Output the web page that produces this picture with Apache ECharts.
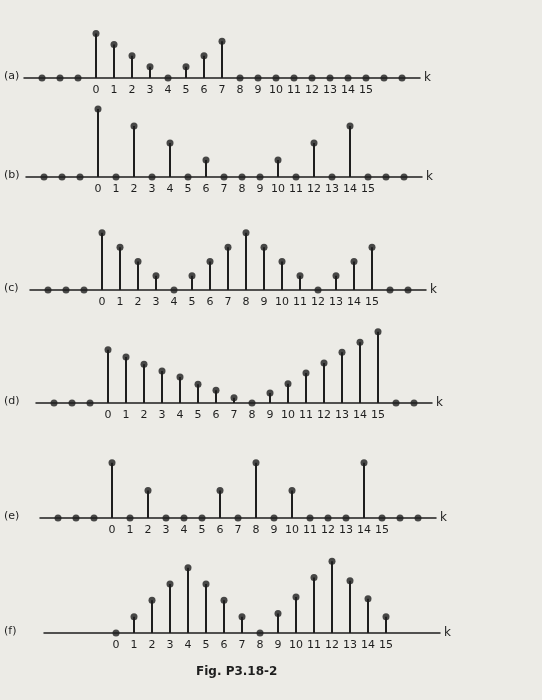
<!DOCTYPE html>
<html><head><meta charset="utf-8">
<script src="https://cdn.jsdelivr.net/npm/echarts@6/dist/echarts.min.js"></script>
<style>html,body{margin:0;background:#ecebe6}#c{width:542px;height:700px}</style>
</head><body><div id="c"></div>
<script>
const ks = [0,1,2,3,4,5,6,7,8,9,10,11,12,13,14,15];
const extraK = [-3,-2,-1,16,17];
const seqA = [4,3,2,1,0,1,2,3.3,0,0,0,0,0,0,0,0];
const seqB = [4,0,3,0,2,0,1,0,0,0,1,0,2,0,3,0];
const seqC = [4,3,2,1,0,1,2,3,4,3,2,1,0,1,2,3];
const seqD = [8,6.9,5.8,4.8,3.9,2.8,1.9,0.8,0,1.5,2.9,4.5,6,7.6,9.1,10.7];
const seqE = [4,0,2,0,0,0,2,0,4,0,2,0,0,0,4,0];
const seqF = [0,1,2,3,4,3,2,1,0,1.2,2.2,3.4,4.4,3.2,2.1,1];
const names = ['(a)','(b)','(c)','(d)','(e)','(f)'];
const panels = [
 {d:seqA, base:78, left:24, max:7, extra:true},
 {d:seqB, base:177, left:26, max:4.7, extra:true},
 {d:seqC, base:290, left:30, max:5.6, extra:true},
 {d:seqD, base:403, left:36, max:12, extra:true},
 {d:seqE, base:518, left:40, max:5.8, extra:true},
 {d:seqF, base:633, left:44, max:4.9, extra:false}
];
const ink='#1e1e1e';
const grid=[],xAxis=[],yAxis=[],series=[],graphic=[];
panels.forEach((p,i)=>{
  grid.push({left:p.left,width:396,top:p.base-80,height:80});
  xAxis.push({type:'value',gridIndex:i,min:-4,max:18,interval:1,
    axisLine:{lineStyle:{color:ink,width:1.5}},axisTick:{show:false},splitLine:{show:false},
    axisLabel:{color:ink,fontSize:11,fontFamily:'DejaVu Sans',margin:7,
      formatter:v=>(v>=0&&v<=15)?String(v):''},
    name:'k',nameLocation:'end',nameGap:4,nameTextStyle:{color:ink,fontSize:12,fontFamily:'DejaVu Sans'}});
  yAxis.push({type:'value',gridIndex:i,min:0,max:p.max,show:false});
  const pts=ks.map((k,j)=>[k,p.d[j]]);
  series.push({type:'bar',xAxisIndex:i,yAxisIndex:i,data:pts,barWidth:2,itemStyle:{color:ink},silent:true});
  series.push({type:'scatter',xAxisIndex:i,yAxisIndex:i,data:pts,symbolSize:7,itemStyle:{color:ink},silent:true});
  if(p.extra) series.push({type:'scatter',xAxisIndex:i,yAxisIndex:i,data:extraK.map(k=>[k,0]),symbolSize:7,itemStyle:{color:ink},silent:true});
  graphic.push({type:'text',left:4,top:p.base-7,style:{text:names[i],fill:ink,font:'11px DejaVu Sans'}});
});
graphic.push({type:'text',left:196,top:666,style:{text:'Fig. P3.18-2',fill:ink,font:'bold 12px DejaVu Sans'}});
const chart=echarts.init(document.getElementById('c'));
chart.setOption({backgroundColor:'#ecebe6',animation:false,grid,xAxis,yAxis,series,graphic});
</script></body></html>
